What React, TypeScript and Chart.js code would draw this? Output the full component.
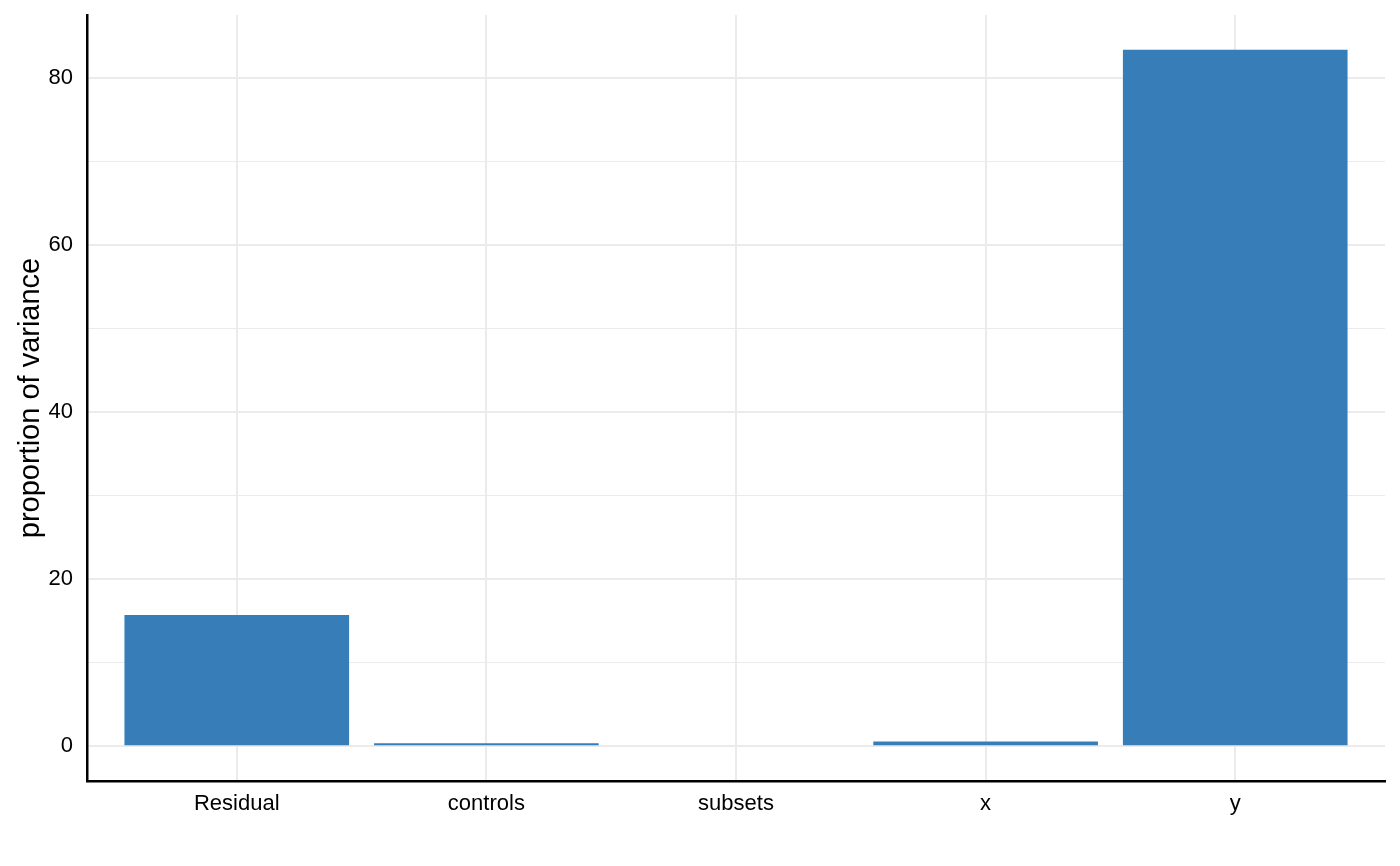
import React, { useEffect, useRef } from "react";
import { Chart, registerables } from "chart.js";

Chart.register(...registerables);

const categories = ["Residual", "controls", "subsets", "x", "y"];
const variance = [15.7, 0.35, 0, 0.55, 83.4];
const yTickValues = [0, 10, 20, 30, 40, 50, 60, 70, 80];
const yLabelValues = [0, 20, 40, 60, 80];

const FONT = "'Liberation Sans', Arial, Helvetica, sans-serif";

export default function App() {
  const ref = useRef<HTMLCanvasElement>(null);

  useEffect(() => {
    document.body.style.margin = "0";
    const maxV = Math.max(0, ...variance);
    const minV = Math.min(0, ...variance);
    const span = maxV - minV;
    const chart = new Chart(ref.current!, {
      type: "bar",
      data: {
        datasets: [
          {
            data: categories.map((c, i) => ({ x: i, y: variance[i] })),
            backgroundColor: "#377EB8",
            borderWidth: 0,
            barPercentage: 0.9,
            categoryPercentage: 1,
          },
        ],
      },
      options: {
        animation: false,
        responsive: true,
        maintainAspectRatio: false,
        layout: { padding: { top: 15, right: 15, left: 0, bottom: 0 } },
        plugins: { legend: { display: false }, tooltip: { enabled: false } },
        scales: {
          x: {
            type: "linear",
            offset: false,
            min: -0.6,
            max: categories.length - 0.4,
            afterBuildTicks: (s: any) => {
              s.ticks = categories.map((_, i) => ({ value: i }));
            },
            afterFit: (s: any) => {
              s.height = 85;
              s.paddingLeft = 0;
              s.paddingRight = 0;
            },
            grid: { color: "#EBEBEB", lineWidth: 2, drawTicks: false, offset: false },
            border: { display: true, color: "#000000", width: 2.5 },
            ticks: {
              autoSkip: false,
              maxRotation: 0,
              padding: 10,
              color: "#000000",
              font: { family: FONT, size: 22 },
              callback: (v: any) => categories[Math.round(Number(v))] ?? "",
            },
          },
          y: {
            type: "linear",
            min: minV - 0.05 * span,
            max: maxV + 0.05 * span,
            afterBuildTicks: (s: any) => {
              s.ticks = yTickValues.map((v) => ({ value: v }));
            },
            afterFit: (s: any) => {
              s.width = 87;
              s.paddingTop = 0;
              s.paddingBottom = 0;
            },
            grid: {
              color: "#EBEBEB",
              lineWidth: (ctx: any) =>
                ctx.tick && yLabelValues.includes(ctx.tick.value) ? 2 : 1,
              drawTicks: false,
            },
            border: { display: true, color: "#000000", width: 2.5 },
            ticks: {
              padding: 14,
              color: "#000000",
              font: { family: FONT, size: 22 },
              callback: (v: any) =>
                yLabelValues.includes(Number(v)) ? String(v) : "",
            },
            title: {
              display: true,
              text: "proportion of variance",
              color: "#000000",
              font: { family: FONT, size: 29 },
              padding: { top: 14, bottom: 0 },
            },
          },
        },
      },
    });
    return () => chart.destroy();
  }, []);

  return (
    <div style={{ position: "fixed", left: 0, top: 0, width: 1400, height: 866 }}>
      <canvas ref={ref} />
    </div>
  );
}
